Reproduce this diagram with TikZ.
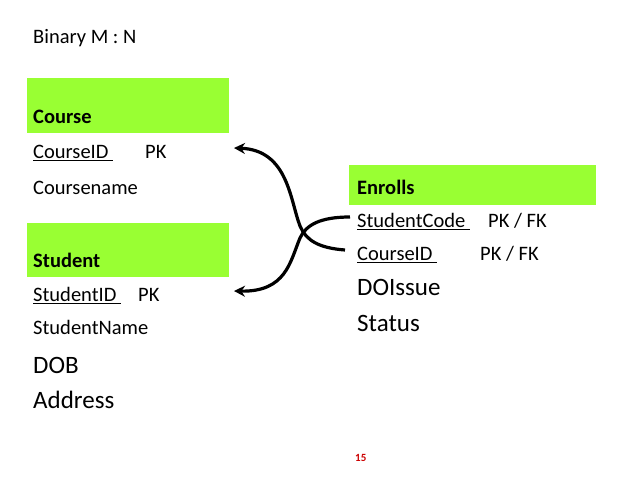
\documentclass[tikz,border=0pt]{standalone}
\usepackage{fontspec}
\setmainfont{Carlito}
\usetikzlibrary{arrows.meta}
\begin{document}
\begin{tikzpicture}[x=1pt,y=-1pt,
  txt/.style={anchor=base west,inner sep=0pt,font=\fontsize{20.5}{24}\selectfont},
  big/.style={anchor=base west,inner sep=0pt,font=\fontsize{25}{29}\selectfont},
  hd/.style={anchor=base west,inner sep=0pt,font=\fontsize{20.5}{24}\selectfont\bfseries},
  conn/.style={line width=3.2pt,-{Stealth[length=11pt,width=11pt]}}]
\definecolor{lime}{RGB}{153,255,51}
\useasboundingbox (0,0) rectangle (638,478);
\fill[lime] (27,78) rectangle (229,133);
\fill[lime] (27,223) rectangle (229,277);
\fill[lime] (349,165) rectangle (596,205);
\node[txt] (t) at (33,44) {Binary M : N};
\node[hd] (c) at (33,124) {Course};
\node[txt] (c1) at (33,159) {\underline{CourseID }};
\node[txt] (c1k) at (145,159) {PK};
\node[txt] (c2) at (33,195) {Coursename};
\node[hd] (s) at (33,268) {Student};
\node[txt] (s1) at (33,302) {\underline{StudentID }};
\node[txt] (s1k) at (138,302) {PK};
\node[txt] (s2) at (33,335) {StudentName};
\node[big] (s3) at (33,374) {DOB};
\node[big] (s4) at (33,409) {Address};
\node[hd] (e) at (357,195) {Enrolls};
\node[txt] (e1) at (357,228) {\underline{StudentCode }};
\node[txt] (e1k) at (488,228) {PK / FK};
\node[txt] (e2) at (357,261) {\underline{CourseID }};
\node[txt] (e2k) at (480,261) {PK / FK};
\node[big] (e3) at (357,296) {DOIssue};
\node[big] (e4) at (357,332) {Status};
\node[anchor=base west,inner sep=0pt,text=red!80!black,font=\fontsize{11}{12}\selectfont\bfseries] (pg) at (355,462) {15};
\coordinate (a1) at (345,250);
\coordinate (a2) at (350,217);
\coordinate (t1) at (234,148);
\coordinate (t2) at (234,291);
\draw[conn] (a1) .. controls (318,248) and (306,240) .. (300,226) .. controls (290,200) and (288,150) .. (t1);
\draw[conn] (a2) .. controls (320,217) and (306,225) .. (300,238) .. controls (290,262) and (286,292) .. (t2);
\end{tikzpicture}
\end{document}
